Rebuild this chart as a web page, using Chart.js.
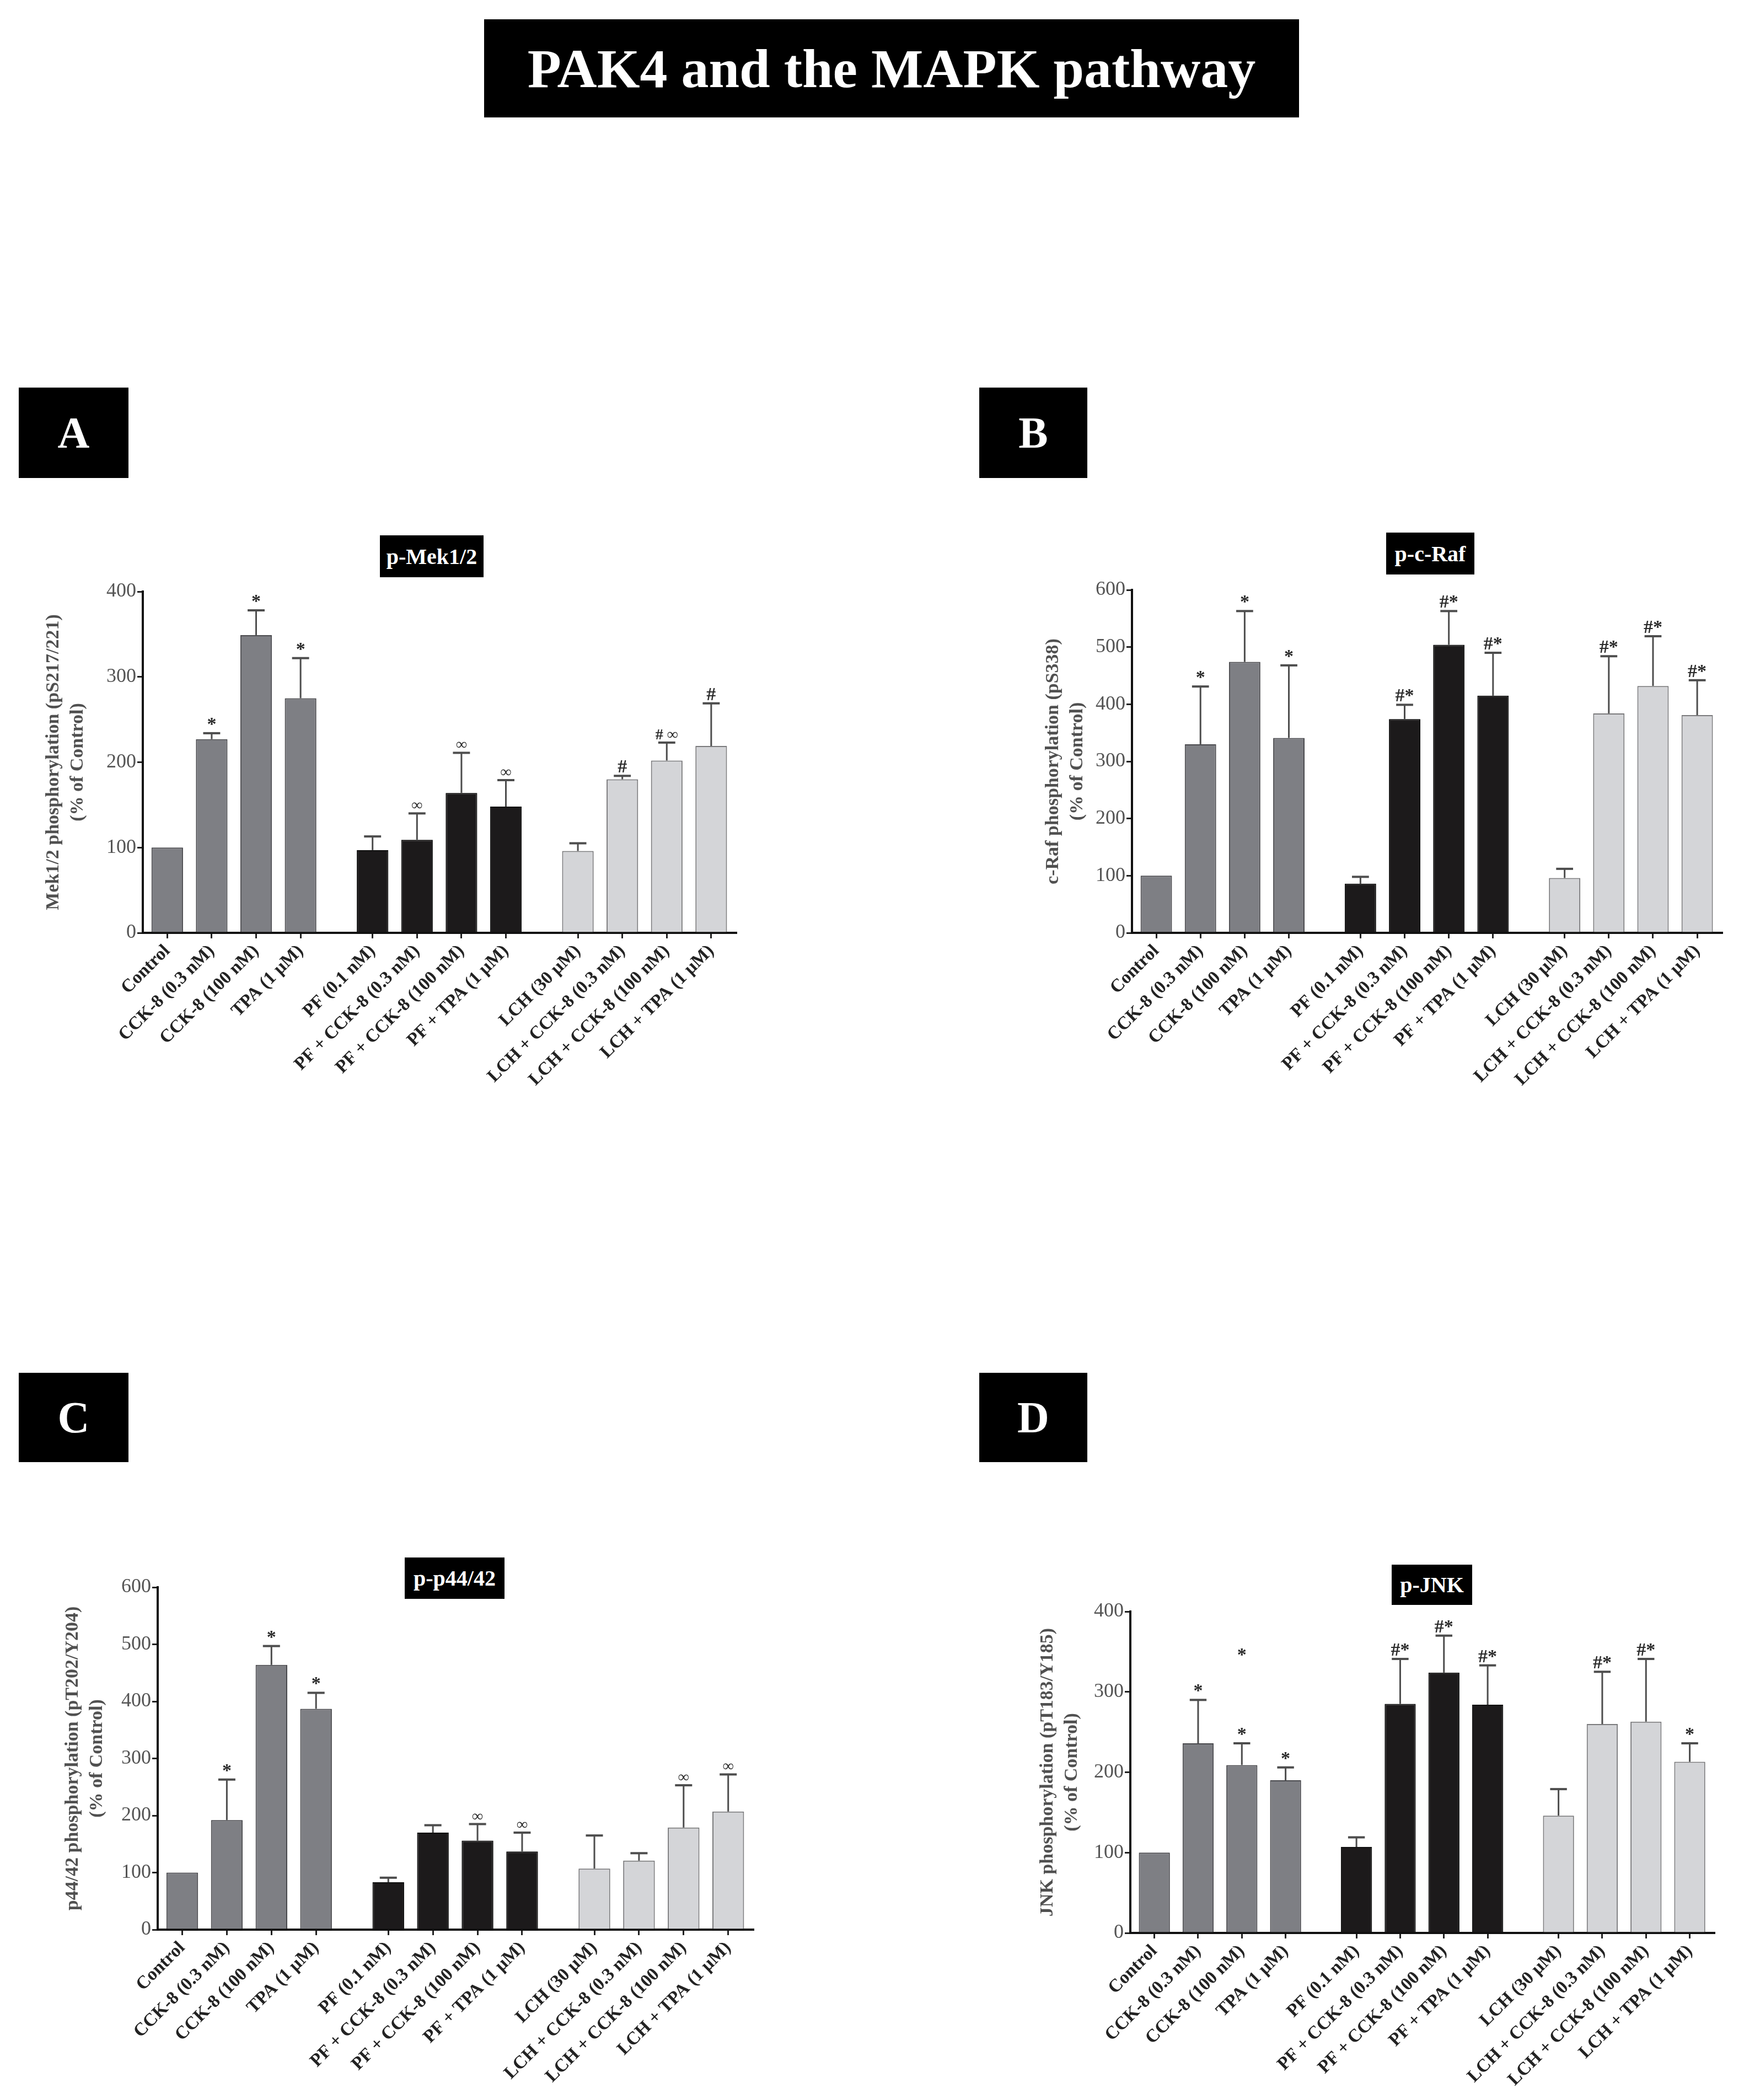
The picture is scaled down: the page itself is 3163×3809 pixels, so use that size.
<!DOCTYPE html>
<html>
<head>
<meta charset="utf-8">
<script src="https://cdn.jsdelivr.net/npm/chart.js@4.4.1/dist/chart.umd.min.js"></script>
<style>
  body { margin: 0; background: #fff; }
  #page { position: relative; width: 3163px; height: 3809px; background: #fff; font-family: 'Liberation Serif', 'Times New Roman', serif; }
  .box { position: absolute; background: #000; color: #fff; font-weight: bold; display: flex; align-items: center; justify-content: center; }
  canvas { position: absolute; }
</style>
</head>
<body>
<div id="page">
  <div class="box" style="left:878px;top:35px;width:1478px;height:178px;font-size:100px;">PAK4 and the MAPK pathway</div>
  <div class="box" style="left:34px;top:703px;width:199px;height:164px;font-size:80px;">A</div>
  <div class="box" style="left:1776px;top:703px;width:196px;height:164px;font-size:80px;">B</div>
  <div class="box" style="left:34px;top:2490px;width:199px;height:162px;font-size:80px;">C</div>
  <div class="box" style="left:1776px;top:2490px;width:196px;height:162px;font-size:80px;">D</div>
  <div class="box" style="left:689px;top:971px;width:188px;height:76px;font-size:40px;">p-Mek1/2</div>
  <div class="box" style="left:2514px;top:966px;width:160px;height:76px;font-size:40px;">p-c-Raf</div>
  <div class="box" style="left:734px;top:2825px;width:181px;height:75px;font-size:40px;">p-p44/42</div>
  <div class="box" style="left:2524px;top:2838px;width:146px;height:73px;font-size:40px;">p-JNK</div>
  <canvas id="chartA"></canvas>
  <canvas id="chartB"></canvas>
  <canvas id="chartC"></canvas>
  <canvas id="chartD"></canvas>
</div>
<script>
// treatments, 3 groups of 4
const categories = ['Control', 'CCK-8 (0.3 nM)', 'CCK-8 (100 nM)', 'TPA (1 µM)',
  'PF (0.1 nM)', 'PF + CCK-8 (0.3 nM)', 'PF + CCK-8 (100 nM)', 'PF + TPA (1 µM)',
  'LCH (30 µM)', 'LCH + CCK-8 (0.3 nM)', 'LCH + CCK-8 (100 nM)', 'LCH + TPA (1 µM)'];

// A: p-Mek1/2
const mekMean = [100, 227, 349, 275, 97, 109, 164, 148, 96, 180, 202, 219];
const mekErr  = [0, 7, 29, 47, 16, 31, 47, 31, 9, 4, 21, 50];
const mekSig  = ['', '*', '*', '*', '', '∞', '∞', '∞', '', '#', '# ∞', '#'];

// B: p-c-Raf
const rafMean = [100, 330, 474, 341, 86, 374, 504, 415, 96, 384, 432, 381];
const rafErr  = [0, 101, 89, 127, 12, 25, 59, 75, 16, 100, 87, 61];
const rafSig  = ['', '*', '*', '*', '', '#*', '#*', '#*', '', '#*', '#*', '#*'];

// C: p-p44/42
const erkMean = [100, 192, 464, 387, 83, 170, 156, 137, 107, 121, 179, 207];
const erkErr  = [0, 71, 33, 28, 8, 13, 29, 33, 58, 13, 74, 65];
const erkSig  = ['', '*', '*', '*', '', '', '∞', '∞', '', '', '∞', '∞'];

// D: p-JNK
const jnkMean = [100, 236, 209, 190, 107, 285, 324, 284, 146, 260, 263, 213];
const jnkErr  = [0, 54, 27, 16, 12, 56, 46, 49, 33, 65, 78, 23];
const jnkSig  = ['', '*', '*', '*', '', '#*', '#*', '#*', '', '#*', '#*', '*'];
const jnkStray = [null, null, 339, null, null, null, null, null, null, null, null, null];

const groupColors = ['#7e7f84', '#1c1a1b', '#d4d5d8'];
const groupBorders = ['#4a4a4e', '#111111', '#7a7a7c'];
const SERIF = "'Liberation Serif', 'Times New Roman', serif";

// x slot of each bar: 4 bars per group, extra gap between groups
const GROUP_GAP = 0.62;
const slots = categories.map((c, i) => Math.floor(i / 4) * (4 + GROUP_GAP) + (i % 4));

const errorBars = {
  id: 'errorBars',
  afterDatasetsDraw(chart, args, opts) {
    const { ctx } = chart;
    const y = chart.scales.y;
    const meta = chart.getDatasetMeta(0);
    const vals = chart.data.datasets[0].data;
    ctx.save();
    meta.data.forEach((bar, i) => {
      const v = vals[i].y;
      const e = opts.err[i] || 0;
      let markY = y.getPixelForValue(v);
      if (e > 0) {
        const top = y.getPixelForValue(v + e);
        ctx.strokeStyle = '#4d4d4d';
        ctx.lineWidth = 3;
        ctx.beginPath();
        ctx.moveTo(bar.x, markY);
        ctx.lineTo(bar.x, top);
        ctx.stroke();
        ctx.lineWidth = 4;
        ctx.beginPath();
        ctx.moveTo(bar.x - bar.width * 0.27, top);
        ctx.lineTo(bar.x + bar.width * 0.27, top);
        ctx.stroke();
        markY = top;
      }
      ctx.fillStyle = '#2a2a2a';
      ctx.textAlign = 'center';
      ctx.textBaseline = 'alphabetic';
      const s = opts.sig[i];
      if (s) {
        ctx.font = (s.indexOf('∞') >= 0 ? 'bold 28px ' : 'bold 34px ') + SERIF;
        ctx.fillText(s, bar.x, markY - 6);
      }
      if (opts.extra && opts.extra[i] != null) {
        ctx.font = 'bold 34px ' + SERIF;
        ctx.fillText('*', bar.x, y.getPixelForValue(opts.extra[i]));
      }
    });
    ctx.restore();
  }
};

function makeChart(id, rect, means, errs, sigs, extra, yMax, yTitle) {
  const padTop = 40, padRight = 40, H = 340;
  const left = rect.plotLeft - rect.W;
  const top = rect.plotTop - padTop;
  const canvas = document.getElementById(id);
  canvas.style.left = left + 'px';
  canvas.style.top = top + 'px';
  canvas.width = rect.plotRight - left + padRight;
  canvas.height = rect.plotBottom - top + H;

  new Chart(canvas, {
    type: 'bar',
    data: {
      datasets: [{
        data: slots.map((s, i) => ({ x: s, y: means[i] })),
        backgroundColor: categories.map((c, i) => groupColors[Math.floor(i / 4)]),
        borderColor: categories.map((c, i) => groupBorders[Math.floor(i / 4)]),
        borderWidth: 2,
        barPercentage: 1,
        categoryPercentage: 0.71
      }]
    },
    options: {
      responsive: false,
      devicePixelRatio: 1,
      animation: false,
      layout: { padding: { top: padTop, right: padRight, left: 0, bottom: 0 } },
      plugins: {
        legend: { display: false },
        tooltip: { enabled: false },
        errorBars: { err: errs, sig: sigs, extra: extra }
      },
      scales: {
        x: {
          type: 'linear',
          min: -0.55,
          max: slots[slots.length - 1] + 0.56,
          offset: false,
          afterBuildTicks: scale => { scale.ticks = slots.map(v => ({ value: v })); },
          afterFit: scale => { scale.height = H; },
          ticks: {
            autoSkip: false,
            minRotation: 45,
            maxRotation: 45,
            padding: 4,
            color: '#222',
            font: { family: SERIF, size: 33, weight: 'bold' },
            callback: (value, index) => categories[index]
          },
          grid: { display: true, drawOnChartArea: false, drawTicks: true, tickLength: 10, offset: false, color: '#222', lineWidth: 3 },
          border: { display: true, color: '#111', width: 4 }
        },
        y: {
          min: 0,
          max: yMax,
          afterFit: scale => { scale.width = rect.W; },
          ticks: { stepSize: 100, padding: 2, color: '#555', font: { family: SERIF, size: 36 } },
          grid: { display: true, drawOnChartArea: false, drawTicks: true, tickLength: 10, color: '#222', lineWidth: 3 },
          border: { display: true, color: '#111', width: 4 },
          title: {
            display: true,
            text: yTitle,
            color: '#505050',
            padding: 0,
            font: { family: SERIF, size: 34, weight: 'bold', lineHeight: 1.3 }
          }
        }
      }
    },
    plugins: [errorBars]
  });
}

makeChart('chartA', { plotLeft: 259, plotRight: 1335, plotTop: 1073, plotBottom: 1692, W: 184 },
  mekMean, mekErr, mekSig, null, 400, ['Mek1/2 phosphorylation (pS217/221)', '(% of Control)']);
makeChart('chartB', { plotLeft: 2053, plotRight: 3123, plotTop: 1070, plotBottom: 1692, W: 165 },
  rafMean, rafErr, rafSig, null, 600, ['c-Raf phosphorylation (pS338)', '(% of Control)']);
makeChart('chartC', { plotLeft: 286, plotRight: 1366, plotTop: 2879, plotBottom: 3500, W: 176 },
  erkMean, erkErr, erkSig, null, 600, ['p44/42 phosphorylation (pT202/Y204)', '(% of Control)']);
makeChart('chartD', { plotLeft: 2050, plotRight: 3109, plotTop: 2923, plotBottom: 3506, W: 172 },
  jnkMean, jnkErr, jnkSig, jnkStray, 400, ['JNK phosphorylation (pT183/Y185)', '(% of Control)']);
</script>
</body>
</html>
